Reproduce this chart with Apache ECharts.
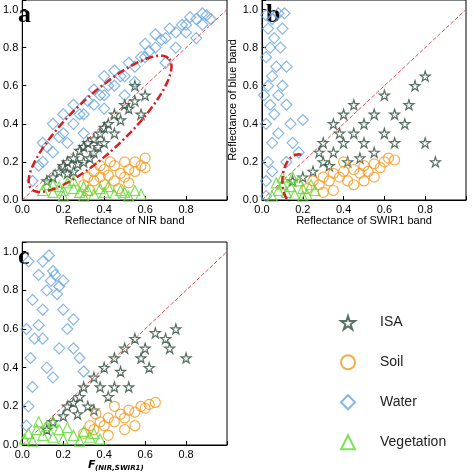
<!DOCTYPE html><html><head><meta charset="utf-8"><script src="https://cdn.jsdelivr.net/npm/echarts@6/dist/echarts.min.js"></script>
<style>html,body{margin:0;background:#fff}#c{width:474px;height:474px}</style></head><body><div id="c"></div><script>
const classNames=['ISA','Soil','Water','Vegetation'];
const aWater=[[0.05,0.1],[0.08,0.18],[0.1,0.2],[0.12,0.28],[0.15,0.25],[0.15,0.4],[0.18,0.33],[0.2,0.35],[0.2,0.45],[0.22,0.3],[0.25,0.4],[0.25,0.5],[0.28,0.45],[0.3,0.45],[0.3,0.35],[0.32,0.52],[0.35,0.5],[0.35,0.58],[0.38,0.55],[0.4,0.55],[0.4,0.65],[0.42,0.6],[0.45,0.6],[0.45,0.68],[0.48,0.65],[0.5,0.65],[0.5,0.55],[0.52,0.72],[0.55,0.7],[0.58,0.75],[0.6,0.75],[0.6,0.82],[0.62,0.78],[0.65,0.8],[0.65,0.87],[0.68,0.84],[0.7,0.85],[0.7,0.72],[0.72,0.9],[0.75,0.88],[0.75,0.8],[0.78,0.92],[0.8,0.92],[0.8,0.88],[0.82,0.96],[0.85,0.95],[0.85,0.85],[0.88,0.98],[0.9,0.97],[0.88,0.92],[0.92,0.95],[0.4,0.48],[0.55,0.62],[0.1,0.3]];
const aISA=[[0.12,0.1],[0.15,0.12],[0.18,0.15],[0.2,0.18],[0.22,0.2],[0.25,0.22],[0.25,0.15],[0.28,0.26],[0.3,0.28],[0.3,0.2],[0.32,0.3],[0.35,0.32],[0.35,0.25],[0.38,0.35],[0.4,0.38],[0.4,0.3],[0.42,0.4],[0.45,0.45],[0.45,0.35],[0.48,0.42],[0.5,0.5],[0.52,0.48],[0.55,0.6],[0.55,0.52],[0.6,0.55],[0.58,0.45],[0.33,0.22],[0.27,0.19],[0.22,0.14],[0.37,0.28]];
const aSoil=[[0.3,0.08],[0.32,0.12],[0.35,0.1],[0.35,0.15],[0.38,0.12],[0.4,0.08],[0.4,0.16],[0.42,0.13],[0.45,0.1],[0.45,0.18],[0.48,0.14],[0.5,0.12],[0.5,0.2],[0.52,0.16],[0.55,0.15],[0.55,0.2],[0.58,0.18],[0.6,0.17],[0.6,0.22],[0.38,0.18],[0.43,0.2],[0.47,0.06],[0.52,0.09],[0.33,0.05]];
const aVeg=[[0.1,0.05],[0.12,0.08],[0.15,0.04],[0.18,0.07],[0.2,0.05],[0.22,0.09],[0.25,0.06],[0.28,0.04],[0.3,0.07],[0.32,0.05],[0.35,0.03],[0.38,0.06],[0.4,0.04],[0.42,0.07],[0.45,0.03],[0.48,0.05],[0.5,0.04],[0.52,0.02],[0.55,0.05],[0.58,0.03],[0.25,0.1],[0.3,0.02],[0.2,0.02],[0.15,0.08]];
const bWater=[[0.02,0.1],[0.03,0.2],[0.05,0.3],[0.02,0.4],[0.06,0.45],[0.04,0.5],[0.08,0.55],[0.03,0.6],[0.05,0.65],[0.07,0.7],[0.02,0.75],[0.04,0.8],[0.06,0.85],[0.03,0.9],[0.05,0.95],[0.08,0.98],[0.1,0.9],[0.09,0.8],[0.1,0.6],[0.12,0.5],[0.14,0.4],[0.15,0.3],[0.12,0.2],[0.18,0.25],[0.2,0.42],[0.02,0.02],[0.05,0.15],[0.08,0.35],[0.01,0.55],[0.12,0.7],[0.11,0.98],[0.02,0.97]];
const bISA=[[0.15,0.1],[0.2,0.12],[0.25,0.15],[0.3,0.2],[0.3,0.3],[0.35,0.25],[0.35,0.4],[0.4,0.3],[0.4,0.45],[0.42,0.2],[0.45,0.35],[0.45,0.5],[0.5,0.3],[0.5,0.4],[0.55,0.25],[0.55,0.45],[0.6,0.35],[0.6,0.55],[0.65,0.3],[0.7,0.4],[0.72,0.5],[0.75,0.6],[0.8,0.65],[0.85,0.2],[0.8,0.3],[0.38,0.35],[0.28,0.25],[0.33,0.18],[0.48,0.22],[0.65,0.45]];
const bSoil=[[0.22,0.06],[0.25,0.1],[0.28,0.08],[0.3,0.12],[0.33,0.1],[0.35,0.14],[0.38,0.12],[0.4,0.15],[0.42,0.1],[0.45,0.16],[0.48,0.14],[0.5,0.18],[0.52,0.15],[0.55,0.19],[0.58,0.17],[0.6,0.2],[0.62,0.22],[0.65,0.21],[0.45,0.08],[0.55,0.12],[0.35,0.05],[0.4,0.2],[0.5,0.1],[0.3,0.04]];
const bVeg=[[0.05,0.02],[0.08,0.05],[0.1,0.08],[0.12,0.04],[0.14,0.07],[0.16,0.03],[0.18,0.1],[0.2,0.06],[0.22,0.03],[0.24,0.08],[0.26,0.05],[0.1,0.12],[0.15,0.12],[0.2,0.02],[0.07,0.09]];
const cWater=[[0.02,0.1],[0.03,0.2],[0.05,0.3],[0.04,0.45],[0.06,0.55],[0.08,0.62],[0.1,0.7],[0.12,0.8],[0.14,0.85],[0.16,0.88],[0.18,0.82],[0.15,0.9],[0.1,0.95],[0.13,0.98],[0.2,0.85],[0.08,0.88],[0.05,0.75],[0.2,0.7],[0.22,0.6],[0.25,0.5],[0.28,0.45],[0.18,0.5],[0.12,0.4],[0.15,0.35],[0.3,0.38],[0.25,0.65],[0.02,0.6],[0.1,0.55],[0.03,0.95],[0.17,0.78]];
const cISA=[[0.12,0.08],[0.15,0.12],[0.2,0.15],[0.22,0.2],[0.25,0.22],[0.28,0.25],[0.3,0.3],[0.32,0.2],[0.35,0.35],[0.38,0.3],[0.4,0.4],[0.42,0.25],[0.45,0.45],[0.48,0.38],[0.5,0.5],[0.52,0.3],[0.55,0.55],[0.58,0.45],[0.6,0.5],[0.65,0.58],[0.7,0.55],[0.72,0.5],[0.75,0.6],[0.8,0.45],[0.35,0.18],[0.27,0.16],[0.45,0.3],[0.62,0.4]];
const cSoil=[[0.3,0.06],[0.33,0.1],[0.35,0.08],[0.38,0.12],[0.4,0.1],[0.42,0.14],[0.45,0.12],[0.48,0.16],[0.5,0.14],[0.52,0.18],[0.55,0.17],[0.58,0.2],[0.6,0.19],[0.62,0.21],[0.65,0.22],[0.45,0.2],[0.5,0.08],[0.55,0.1],[0.36,0.16],[0.42,0.05]];
const cVeg=[[0.01,0.03],[0.03,0.06],[0.05,0.02],[0.07,0.08],[0.1,0.05],[0.12,0.1],[0.15,0.04],[0.18,0.08],[0.2,0.03],[0.22,0.09],[0.25,0.05],[0.28,0.02],[0.3,0.07],[0.33,0.04],[0.35,0.06],[0.38,0.03],[0.15,0.12],[0.08,0.12]];
const xLabels=['Reflectance of NIR band','Reflectance of SWIR1 band','F(NIR,SWIR1)'];
const yLabelB='Reflectance of blue band';
const star='path://M50,0 L61,35 L98,35 L68,57 L79,91 L50,70 L21,91 L32,57 L2,35 L39,35 Z';
const sty=[{sym:star,c:'#2e4d3d',s:10},{sym:'circle',c:'#f39a1e',s:10},{sym:'diamond',c:'#6aa5dd',s:11},{sym:'triangle',c:'#5fd92f',s:10}];
const grids=[{left:12,top:0,width:215,height:200},{left:262,top:0,width:204,height:200},{left:12,top:242,width:215,height:203}];
function ax(i){return{gridIndex:i,min:0,max:1,interval:0.2,axisLine:{onZero:false,lineStyle:{color:'#000'}},axisTick:{inside:true,length:4,lineStyle:{color:'#000'}},splitLine:{show:false},axisLabel:{color:'#000',fontSize:11,margin:4,formatter:v=>v>0.9?'':v.toFixed(1)},name:'',nameLocation:'middle'};}
const xAxis=[0,1,2].map(i=>Object.assign(ax(i),{name:i==2?'':xLabels[i],nameGap:15,nameTextStyle:{fontSize:11,color:'#000'}}));
const yAxis=[0,1,2].map(i=>Object.assign(ax(i),{max:1.05,name:i==1?yLabelB:'',nameGap:22,nameTextStyle:{fontSize:11,color:'#000'},axisLabel:{color:'#000',fontSize:11,margin:4,formatter:v=>v>1?'':v.toFixed(1)}}));
const sets=[[aISA,aSoil,aWater,aVeg],[bISA,bSoil,bWater,bVeg],[cISA,cSoil,cWater,cVeg]];
const series=[];
sets.forEach((set,g)=>set.forEach((d,k)=>series.push({type:'scatter',name:classNames[k],xAxisIndex:g,yAxisIndex:g,data:d,symbol:sty[k].sym,symbolSize:sty[k].s,itemStyle:{color:'rgba(0,0,0,0)',borderColor:sty[k].c,borderWidth:1.2},z:k==2?2:3})));
[0,1,2].forEach(g=>series.push({type:'line',xAxisIndex:g,yAxisIndex:g,data:[[0,0],[1,1]],symbol:'none',lineStyle:{color:'#e05050',type:'dashed',width:1},silent:true}));
function ell(cx,cy,a,b,rot,t0,t1){const p=[];for(let t=t0;t<=t1+1e-9;t+=(t1-t0)/60){const x=a*Math.cos(t),y=b*Math.sin(t);p.push([cx+x*Math.cos(rot)-y*Math.sin(rot),cy+x*Math.sin(rot)+y*Math.cos(rot)]);}return p;}
series.push({type:'line',xAxisIndex:0,yAxisIndex:0,data:ell(0.38,0.4,0.48,0.14,0.8,0,2*Math.PI),symbol:'none',lineStyle:{color:'#d42020',type:[8,3,2,3],width:2.5},z:5});
series.push({type:'line',xAxisIndex:1,yAxisIndex:1,data:ell(0.18,0.1,0.08,0.14,0,1.4,4.9),symbol:'none',lineStyle:{color:'#d42020',type:[8,3,2,3],width:2.5},z:5});
const chart=echarts.init(document.getElementById('c'));
chart.setOption({animation:false,grid:grids.map(g=>Object.assign({show:true,borderColor:'#000',borderWidth:1},g)),xAxis,yAxis,series,
legend:{data:classNames,orient:'vertical',left:335,top:310,itemGap:24,itemWidth:14,itemHeight:14,textStyle:{fontSize:14,color:'#222',padding:[0,0,0,20]}},
graphic:[{type:'text',left:18,top:2,style:{text:'a',font:'bold 26px "Liberation Serif"',fill:'#000'}},{type:'text',left:266,top:2,style:{text:'b',font:'bold 26px "Liberation Serif"',fill:'#000'}},{type:'text',left:18,top:244,style:{text:'c',font:'bold 26px "Liberation Serif"',fill:'#000'}},
{type:'text',left:88,top:460,style:{text:'F',font:'italic bold 11px "DejaVu Sans"',fill:'#000'}},{type:'text',left:95,top:465,style:{text:'(NIR,SWIR1)',font:'italic bold 7px "DejaVu Sans"',fill:'#000'}}]});
</script></body></html>
